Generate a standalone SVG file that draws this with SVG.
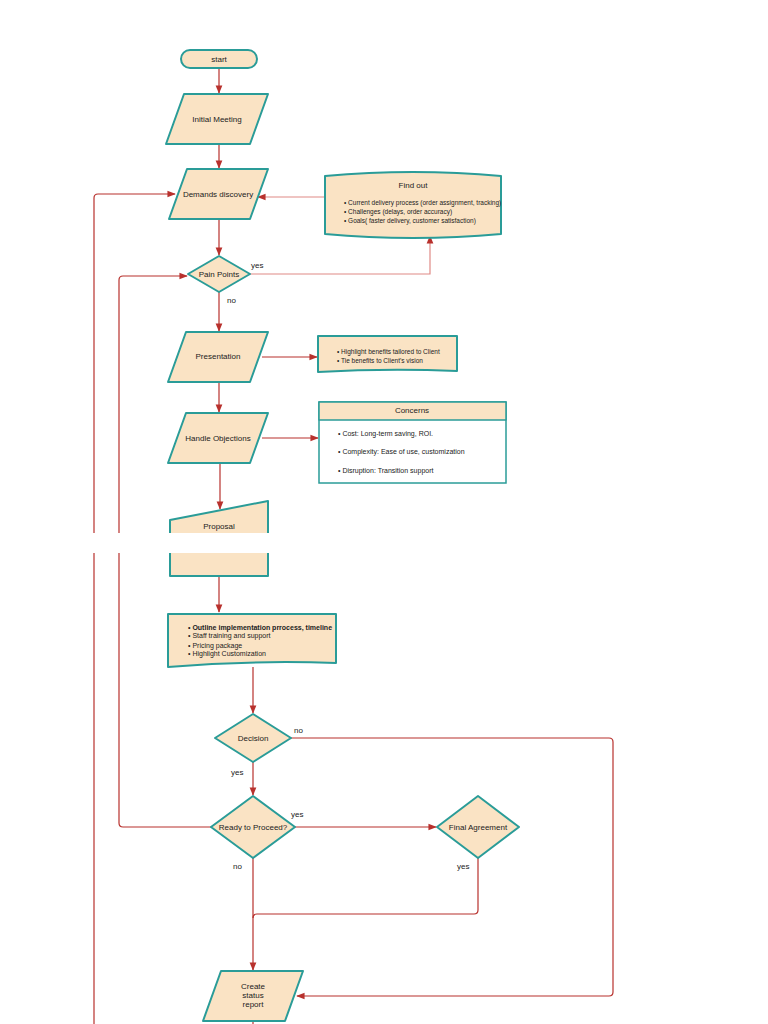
<svg xmlns="http://www.w3.org/2000/svg" width="768" height="1024" viewBox="0 0 768 1024">
<defs>
<style>
.n{fill:#fae3c4;stroke:#2a9c98;stroke-width:2;stroke-linejoin:round}
.b{fill:#fff;stroke:#2a9c98;stroke-width:1.5}
.c{fill:none;stroke:#b8312d;stroke-width:1.2}
.l{fill:none;stroke:#e08a86;stroke-width:1.2}
text{font-family:"Liberation Sans",Arial,sans-serif;font-size:8px;fill:#222}
.s{font-size:6.5px}
.m{text-anchor:middle}
</style>
<marker id="a" viewBox="0 0 10 10" refX="9" refY="5" markerWidth="7" markerHeight="7" orient="auto"><path d="M0,1 L10,5 L0,9 Z" fill="#b8312d"/></marker>
</defs>
<rect width="768" height="1024" fill="#fff"/>
<g id="connectors">
<path class="c" d="M219,68 V93" marker-end="url(#a)"/>
<path class="c" d="M219,144 V168" marker-end="url(#a)"/>
<path class="c" d="M219,219 V255" marker-end="url(#a)"/>
<path class="l" d="M325,197 H258" marker-end="url(#a)"/>
<path class="l" d="M250,274 H430 V236" marker-end="url(#a)"/>
<path class="c" d="M219,292 V331" marker-end="url(#a)"/>
<path class="c" d="M262,357 H317" marker-end="url(#a)"/>
<path class="c" d="M219,382 V412" marker-end="url(#a)"/>
<path class="c" d="M262,438 H318" marker-end="url(#a)"/>
<path class="c" d="M220,463 V509" marker-end="url(#a)"/>
<path class="c" d="M219,576 V612" marker-end="url(#a)"/>
<path class="c" d="M253,667 V713" marker-end="url(#a)"/>
<path class="c" d="M253,762 V795" marker-end="url(#a)"/>
<path class="c" d="M291,738 H609 Q613,738 613,742 V992 Q613,996 609,996 H297" marker-end="url(#a)"/>
<path class="c" d="M295,827 H436" marker-end="url(#a)"/>
<path class="c" d="M211,827 H123 Q119,827 119,823 V280 Q119,276 123,276 H187" marker-end="url(#a)"/>
<path class="c" d="M253,858 V970" marker-end="url(#a)"/>
<path class="c" d="M478,858 V910 Q478,914 474,914 H257 Q253,914 253,918"/>
<path class="c" d="M94,1024 V198 Q94,194 98,194 H175" marker-end="url(#a)"/>
<path class="c" d="M253,1021 V1024"/>
</g>
<g id="start"><rect class="n" x="181" y="50" width="76" height="18" rx="9"/><text class="m" x="219" y="62">start</text></g>
<g id="initial"><path class="n" d="M184,94 H268 L250,144 H166 Z"/><text class="m" x="217" y="122">Initial Meeting</text></g>
<g id="demands"><path class="n" d="M187,169 H268 L250,219 H169 Z"/><text class="m" x="218" y="197">Demands discovery</text></g>
<g id="findout"><path class="n" d="M325,176 Q413,168 501,176 V234 Q413,242 325,234 Z"/>
<text class="m" x="413" y="188">Find out</text>
<text class="s" x="344" y="205">•  Current delivery process (order assignment, tracking)</text>
<text class="s" x="344" y="214">•  Challenges (delays, order accuracy)</text>
<text class="s" x="344" y="223">•  Goals( faster delivery, customer satisfaction)</text></g>
<g id="pain"><path class="n" d="M219,256 L250,274 L219,292 L188,274 Z"/><text class="m" x="219" y="277">Pain Points</text></g>
<text x="251" y="268">yes</text><text x="227" y="303">no</text>
<g id="presentation"><path class="n" d="M186,332 H268 L250,382 H168 Z"/><text class="m" x="218" y="359">Presentation</text></g>
<g id="highlight"><path class="n" d="M318,336 H457 V371 Q388,368 318,372 Z"/>
<text class="s" x="337" y="354">•  Highlight benefits tailored to Client</text>
<text class="s" x="337" y="363">•  Tie benefits to Client's vision</text></g>
<g id="handle"><path class="n" d="M186,413 H268 L250,463 H168 Z"/><text class="m" x="218" y="441">Handle Objections</text></g>
<g id="concerns"><rect class="b" x="319" y="402" width="187" height="81"/><rect class="n" x="319" y="402" width="187" height="18" style="stroke-width:1.5"/>
<text class="m" x="412" y="413">Concerns</text>
<text x="338" y="436" style="font-size:7px">•  Cost: Long-term saving, ROI.</text>
<text x="338" y="454" style="font-size:7px">•  Complexity: Ease of use, customization</text>
<text x="338" y="473" style="font-size:7px">•  Disruption: Transition support</text></g>
<g id="proposal"><path class="n" d="M170,520 L268,501 V576 H170 Z"/><text class="m" x="219" y="529">Proposal</text></g>
<rect x="0" y="533" width="272" height="20" fill="#fff"/>
<g id="outline"><path class="n" d="M168,614 H336 V663 Q252,660 168,667 Z"/>
<text x="188" y="630" style="font-size:7px;font-weight:bold">•  Outline implementation prrocess, timeline</text>
<text x="188" y="638" style="font-size:7px">•  Staff training and support</text>
<text x="188" y="648" style="font-size:7px">•  Pricing package</text>
<text x="188" y="656" style="font-size:7px">•  Highlight Customization</text></g>
<g id="decision"><path class="n" d="M253,714 L291,738 L253,762 L215,738 Z"/><text class="m" x="253" y="741">Decision</text></g>
<text x="294" y="733">no</text><text x="231" y="775">yes</text>
<g id="ready"><path class="n" d="M253,796 L295,827 L253,858 L211,827 Z"/><text class="m" x="253" y="830">Ready to Proceed?</text></g>
<text x="291" y="817">yes</text><text x="233" y="869">no</text>
<g id="final"><path class="n" d="M478,796 L519,827 L478,858 L437,827 Z"/><text class="m" x="478" y="830">Final Agreement</text></g>
<text x="457" y="869">yes</text>
<g id="report"><path class="n" d="M221,971 H303 L285,1021 H203 Z"/>
<text class="m" x="253" y="989">Create</text><text class="m" x="253" y="998">status</text><text class="m" x="253" y="1007">report</text></g>
</svg>
